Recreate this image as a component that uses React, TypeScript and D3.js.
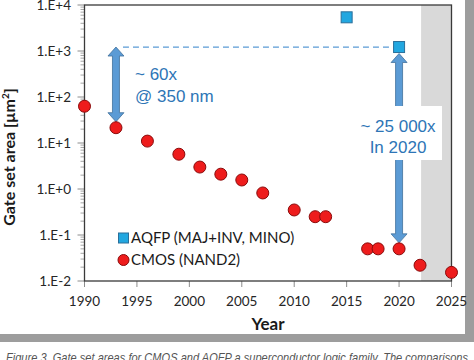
import React from 'react';
import * as d3 from 'd3';

// CMOS (NAND2) gate areas, µm²
const cmosYears = [1990, 1993, 1996, 1999, 2001, 2003, 2005, 2007, 2010, 2012, 2013, 2017, 2018, 2020, 2022, 2025];
const cmosArea = [63, 21.5, 11, 5.7, 3.0, 2.1, 1.57, 0.82, 0.35, 0.25, 0.25, 0.05, 0.05, 0.05, 0.022, 0.0154];

// AQFP (MAJ+INV, MINO)
const aqfpYears = [2015, 2020];
const aqfpArea = [5400, 1220];

const xTicks = [1990, 1995, 2000, 2005, 2010, 2015, 2020, 2025];
const yMajor = [0.01, 0.1, 1, 10, 100, 1000, 10000];
const yTickLabels = ['1.E-2', '1.E-1', '1.E+0', '1.E+1', '1.E+2', '1.E+3', '1.E+4'];

const legendLabels = ['AQFP (MAJ+INV, MINO)', 'CMOS (NAND2)'];
const caption = 'Figure 3. Gate set areas for CMOS and AQFP a superconductor logic family. The comparisons';

const W = 474;
const H = 360;
const plot = { left: 84.5, right: 451.5, top: 5, bottom: 281 };

const lato = 'Lato, "Open Sans", sans-serif';
const arial = '"Liberation Sans", Arial, sans-serif';

const arrowFill = '#5b9bd5';
const arrowStroke = '#41719c';
const noteColor = '#2e75b6';

// vertical arrow polygon, heads at the requested ends
function arrowPath(x: number, y1: number, y2: number, headTop: boolean, headBottom: boolean) {
  const sw = 3.5, hw = 8, hl = 9;
  const pts: [number, number][] = [];
  if (headTop) {
    pts.push([x, y1], [x + hw, y1 + hl], [x + sw, y1 + hl]);
  } else {
    pts.push([x + sw, y1]);
  }
  if (headBottom) {
    pts.push([x + sw, y2 - hl], [x + hw, y2 - hl], [x, y2], [x - hw, y2 - hl], [x - sw, y2 - hl]);
  } else {
    pts.push([x + sw, y2], [x - sw, y2]);
  }
  if (headTop) {
    pts.push([x - sw, y1 + hl], [x - hw, y1 + hl]);
  } else {
    pts.push([x - sw, y1]);
  }
  return 'M' + pts.map(p => p.join(',')).join('L') + 'Z';
}

export default function App() {
  const x = d3.scaleLinear().domain([1990, 2025]).range([plot.left, plot.right]);
  const y = d3.scaleLog().domain([0.01, 10000]).range([plot.bottom, plot.top]);

  const minor = y.ticks().filter(t => !yMajor.some(m => Math.abs(m - t) / m < 1e-6));

  const r = 6;
  const sq = 11;

  // arrow 1: from AQFP 2020 level down to CMOS 1993
  const a1x = x(1993);
  const a1top = y(aqfpArea[1]);
  const a1bot = y(cmosArea[1]) - r;
  // arrow 2: at 2020 between AQFP and CMOS
  const a2x = x(2020);
  const a2top = y(aqfpArea[1]) + sq / 2 + 1;
  const a2bot = y(cmosArea[13]) - r;

  return (
    <svg width={W} height={H} style={{ position: 'absolute', left: 0, top: 0, background: '#fff' }}>
      {/* page frame bars */}
      <rect x={465} y={0} width={W - 465} height={342} fill="#9d9d9d" />
      <rect x={0} y={334} width={W} height={8} fill="#9d9d9d" />

      {/* forecast band */}
      <rect x={x(2022.1)} y={plot.top} width={plot.right - x(2022.1)} height={plot.bottom - plot.top} fill="#d9d9d9" />

      {/* minor y ticks */}
      {minor.map((t, i) => (
        <line key={'mi' + i} x1={plot.left - 4} x2={plot.left} y1={y(t)} y2={y(t)} stroke="#a6a6a6" strokeWidth={1} />
      ))}
      {yMajor.map((t, i) => (
        <g key={'ma' + i}>
          <line x1={plot.left - 7} x2={plot.left} y1={y(t)} y2={y(t)} stroke="#8c8c8c" strokeWidth={1} />
          <text x={71} y={y(t)} dy="0.35em" textAnchor="end" fontFamily={lato} fontSize={13.5} fill="#262626">
            {yTickLabels[i]}
          </text>
        </g>
      ))}
      {xTicks.map(t => (
        <g key={'x' + t}>
          <line x1={x(t)} x2={x(t)} y1={plot.bottom} y2={plot.bottom + 6} stroke="#8c8c8c" strokeWidth={1} />
          <text x={x(t)} y={306} textAnchor="middle" fontFamily={lato} fontSize={13.5} fill="#262626">
            {t}
          </text>
        </g>
      ))}

      {/* frame */}
      <rect x={plot.left} y={plot.top} width={plot.right - plot.left} height={plot.bottom - plot.top}
        fill="none" stroke="#3a3a3a" strokeWidth={1.3} />

      {/* axis titles */}
      <text x={268} y={330} textAnchor="middle" fontFamily={lato} fontWeight="bold" fontSize={17} fill="#1a1a1a">Year</text>
      <text transform={`translate(15,157) rotate(-90)`} textAnchor="middle" fontFamily={lato} fontWeight="bold" fontSize={16} fill="#1a1a1a">
        Gate set area [µm<tspan dy={-6} fontSize={10}>2</tspan><tspan dy={6}>]</tspan>
      </text>

      {/* dashed reference line */}
      <line x1={a1x + 7} x2={x(2020) - sq / 2} y1={y(aqfpArea[1])} y2={y(aqfpArea[1])}
        stroke={arrowFill} strokeWidth={1.2} strokeDasharray="6,4" />

      {/* arrow 1 */}
      <path d={arrowPath(a1x, a1top, a1bot, true, true)} fill={arrowFill} stroke={arrowStroke} strokeWidth={0.8} />
      <text x={135} y={80} fontFamily={arial} fontSize={17} fill={noteColor}>~ 60x</text>
      <text x={135} y={102} fontFamily={arial} fontSize={17} fill={noteColor}>@ 350 nm</text>

      {/* arrow 2 */}
      <path d={arrowPath(a2x, a2top, a2bot, true, true)} fill={arrowFill} stroke={arrowStroke} strokeWidth={0.8} />
      <rect x={352} y={106} width={90} height={54} fill="#fff" />
      <text x={398} y={132} textAnchor="middle" fontFamily={arial} fontSize={17} fill={noteColor}>~ 25 000x</text>
      <text x={398} y={153} textAnchor="middle" fontFamily={arial} fontSize={17} fill={noteColor}>In 2020</text>

      {/* CMOS points */}
      {cmosYears.map((yr, i) => (
        <circle key={'c' + i} cx={x(yr)} cy={y(cmosArea[i])} r={r} fill="#ee1c1c" stroke="#8a0b0b" strokeWidth={1} />
      ))}
      {/* AQFP points */}
      {aqfpYears.map((yr, i) => (
        <rect key={'a' + i} x={x(yr) - sq / 2} y={y(aqfpArea[i]) - sq / 2} width={sq} height={sq}
          fill="#22a7e0" stroke="#2a6f9a" strokeWidth={1} />
      ))}

      {/* legend */}
      <rect x={118.5} y={233} width={10} height={10} fill="#22a7e0" stroke="#2a6f9a" strokeWidth={1} />
      <text x={131} y={243} fontFamily={lato} fontSize={15} fill="#1a1a1a">{legendLabels[0]}</text>
      <circle cx={123.5} cy={260} r={5.5} fill="#ee1c1c" stroke="#8a0b0b" strokeWidth={1} />
      <text x={131} y={265} fontFamily={lato} fontSize={15} fill="#1a1a1a">{legendLabels[1]}</text>

      {/* caption */}
      <text x={6} y={362} fontFamily={arial} fontStyle="italic" fontSize={13} fill="#555"
        textLength={462} lengthAdjust="spacingAndGlyphs">{caption}</text>
    </svg>
  );
}
